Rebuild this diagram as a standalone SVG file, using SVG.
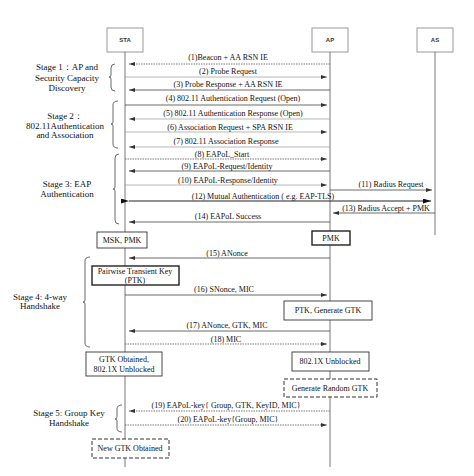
<svg xmlns="http://www.w3.org/2000/svg" width="474" height="476" viewBox="0 0 474 476">
<style>
.hdr{fill:#fff;stroke:#999;stroke-width:1}
.ht{font-family:"Liberation Sans",Arial,sans-serif;font-size:6px;font-weight:bold;fill:#333;text-anchor:middle}
.life{stroke:#555;stroke-width:0.8;fill:none}
.m{stroke:#444;stroke-width:0.8;fill:none}
.mf{stroke:#999;stroke-width:0.7;fill:none}
.d{stroke:#555;stroke-width:0.8;stroke-dasharray:1.5,1;fill:none}
.t{font-family:"Liberation Serif","Times New Roman",serif;font-size:8px;fill:#111;text-anchor:middle}
.st{font-family:"Liberation Serif","Times New Roman",serif;font-size:9px;fill:#111;text-anchor:middle}
.box{fill:#fff;stroke:#333;stroke-width:0.9}
.boxb{fill:#fff;stroke:#222;stroke-width:1.4}
.dbox{fill:#fff;stroke:#333;stroke-width:1;stroke-dasharray:4,2}
.br{stroke:#444;stroke-width:0.8;fill:none}
</style>
<defs>
<marker id="a" viewBox="0 0 6 4" refX="6" refY="2" markerWidth="6" markerHeight="4" orient="auto" markerUnits="userSpaceOnUse">
<path d="M0,0 L6,2 L0,4 Z" fill="#333"/>
</marker>
<marker id="ab" viewBox="0 0 8 5" refX="8" refY="2.5" markerWidth="8" markerHeight="5" orient="auto" markerUnits="userSpaceOnUse">
<path d="M0,0 L8,2.5 L0,5 Z" fill="#111"/>
</marker>
</defs>
<rect width="474" height="476" fill="#fff"/>

<g id="STA">
<rect class="hdr" x="107" y="28" width="36" height="24"/>
<text class="ht" x="125" y="42">STA</text>
<line class="life" x1="125" y1="52" x2="125" y2="467"/>
</g>
<g id="AP">
<rect class="hdr" x="312" y="28" width="36" height="24"/>
<text class="ht" x="330" y="42">AP</text>
<line class="life" x1="330" y1="52" x2="330" y2="467"/>
</g>
<g id="AS">
<rect class="hdr" x="417" y="28" width="36" height="24"/>
<text class="ht" x="435" y="42">AS</text>
<line class="life" x1="435" y1="52" x2="435" y2="235"/>
</g>

<g id="connectors">
<line class="d" x1="330" y1="64" x2="129" y2="64" marker-end="url(#a)"/>
<line class="mf" x1="125" y1="77" x2="327" y2="77" marker-end="url(#a)"/>
<line class="m" x1="330" y1="90" x2="129" y2="90" marker-end="url(#a)"/>
<line class="m" x1="125" y1="105" x2="327" y2="105" marker-end="url(#a)"/>
<line class="mf" x1="330" y1="119" x2="129" y2="119" marker-end="url(#a)"/>
<line class="mf" x1="125" y1="132" x2="327" y2="132" marker-end="url(#a)"/>
<line class="mf" x1="330" y1="147" x2="129" y2="147" marker-end="url(#a)"/>
<line class="d" x1="125" y1="159" x2="327" y2="159" marker-end="url(#a)"/>
<line class="m" x1="330" y1="171" x2="129" y2="171" marker-end="url(#a)"/>
<line class="mf" x1="125" y1="185" x2="327" y2="185" marker-end="url(#a)"/>
<line class="m" x1="330" y1="190" x2="432" y2="190" marker-end="url(#a)"/>
<line stroke="#222" stroke-width="1" x1="129" y1="201" x2="431" y2="201" marker-start="url(#ab)" marker-end="url(#ab)"/>
<line class="m" x1="435" y1="213" x2="333" y2="213" marker-end="url(#a)"/>
<line class="m" x1="330" y1="222" x2="129" y2="222" marker-end="url(#a)"/>
<line class="m" x1="330" y1="258" x2="129" y2="258" marker-end="url(#a)"/>
<line class="m" x1="125" y1="295" x2="327" y2="295" marker-end="url(#a)"/>
<line class="m" x1="330" y1="331" x2="129" y2="331" marker-end="url(#a)"/>
<line class="d" x1="125" y1="344" x2="327" y2="344" marker-end="url(#a)"/>
<line class="d" x1="330" y1="411" x2="129" y2="411" marker-end="url(#a)"/>
<line class="d" x1="125" y1="425" x2="327" y2="425" marker-end="url(#a)"/>
</g>

<g id="labels">
<text class="t" x="228" y="60">(1)Beacon + AA RSN IE</text>
<text class="t" x="228" y="74">(2) Probe Request</text>
<text class="t" x="228" y="87">(3) Probe Response + AA RSN IE</text>
<text class="t" x="233" y="101">(4) 802.11 Authentication Request (Open)</text>
<text class="t" x="233" y="116">(5) 802.11 Authentication Response (Open)</text>
<text class="t" x="230" y="130">(6) Association Request + SPA RSN IE</text>
<text class="t" x="226" y="144">(7) 802.11 Association Response</text>
<text class="t" x="222" y="157">(8) EAPoL_Start</text>
<text class="t" x="227" y="169">(9) EAPoL-Request/Identity</text>
<text class="t" x="228" y="183">(10) EAPoL-Response/Identity</text>
<text class="t" x="391" y="187">(11) Radius Request</text>
<text class="t" x="263" y="199">(12) Mutual Authentication ( e.g. EAP-TLS)</text>
<text class="t" x="386" y="211">(13) Radius Accept + PMK</text>
<text class="t" x="228" y="219">(14) EAPoL Success</text>
<text class="t" x="227" y="256">(15) ANonce</text>
<text class="t" x="224" y="292">(16) SNonce, MIC</text>
<text class="t" x="227" y="328">(17) ANonce, GTK, MIC</text>
<text class="t" x="226" y="342">(18) MIC</text>
<text class="t" x="226" y="408">(19) EAPoL-key{ Group, GTK, KeyID, MIC}</text>
<text class="t" x="228" y="422">(20) EAPoL-key{Group, MIC}</text>
</g>

<g id="boxMSK"><rect class="box" x="97" y="232" width="50" height="16"/><text class="t" x="122" y="243">MSK, PMK</text></g>
<g id="boxPMK"><rect class="boxb" x="312" y="231" width="38" height="14"/><text class="t" x="331" y="241">PMK</text></g>
<g id="boxPTK"><rect class="boxb" x="92" y="266" width="87" height="19"/><text class="t" x="135" y="274">Pairwise Transient Key</text><text class="t" x="135" y="283">(PTK)</text></g>
<g id="boxPTKGTK"><rect class="box" x="284" y="301" width="88" height="19"/><text class="t" x="328" y="313">PTK, Generate GTK</text></g>
<g id="boxGTKObt"><rect class="box" x="86" y="352" width="76" height="24"/><text class="t" x="124" y="362">GTK Obtained,</text><text class="t" x="124" y="372">802.1X Unblocked</text></g>
<g id="boxUnblocked"><rect class="box" x="292" y="352" width="77" height="19"/><text class="t" x="330" y="364">802.1X Unblocked</text></g>
<g id="boxRandom"><rect class="dbox" x="284" y="379" width="93" height="18"/><text class="t" x="330" y="391">Generate Random GTK</text></g>
<g id="boxNewGTK"><rect class="dbox" x="92" y="439" width="77" height="19"/><text class="t" x="130" y="451">New GTK Obtained</text></g>

<g id="stages">
<text class="st" x="67" y="70">Stage 1：AP and</text>
<text class="st" x="67" y="81">Security Capacity</text>
<text class="st" x="67" y="91">Discovery</text>
<path class="br" d="M115,64 Q111,64 111,68 L111,75 Q111,77 109,77 Q111,77 111,79 L111,87 Q111,91 115,91"/>
<text class="st" x="65" y="119">Stage 2：</text>
<text class="st" x="65" y="129">802.11Authentication</text>
<text class="st" x="65" y="138">and Association</text>
<path class="br" d="M118,101 Q113,101 113,105 L113,122 Q113,124 111,124 Q113,124 113,126 L113,144 Q113,148 118,148"/>
<text class="st" x="67" y="187">Stage 3: EAP</text>
<text class="st" x="67" y="197">Authentication</text>
<path class="br" d="M119,154 Q115,154 115,158 L115,187 Q115,189 113,189 Q115,189 115,191 L115,220 Q115,224 119,224"/>
<text class="st" x="40" y="300">Stage 4: 4-way</text>
<text class="st" x="40" y="309">Handshake</text>
<path class="br" d="M90,257 Q85,257 85,261 L85,300 Q85,302 83,302 Q85,302 85,304 L85,343 Q85,347 90,347"/>
<text class="st" x="69" y="416">Stage 5: Group Key</text>
<text class="st" x="69" y="426">Handshake</text>
<path class="br" d="M122,405 Q117,405 117,409 L117,417 Q117,419 115,419 Q117,419 117,421 L117,428 Q117,432 122,432"/>
</g>
</svg>
